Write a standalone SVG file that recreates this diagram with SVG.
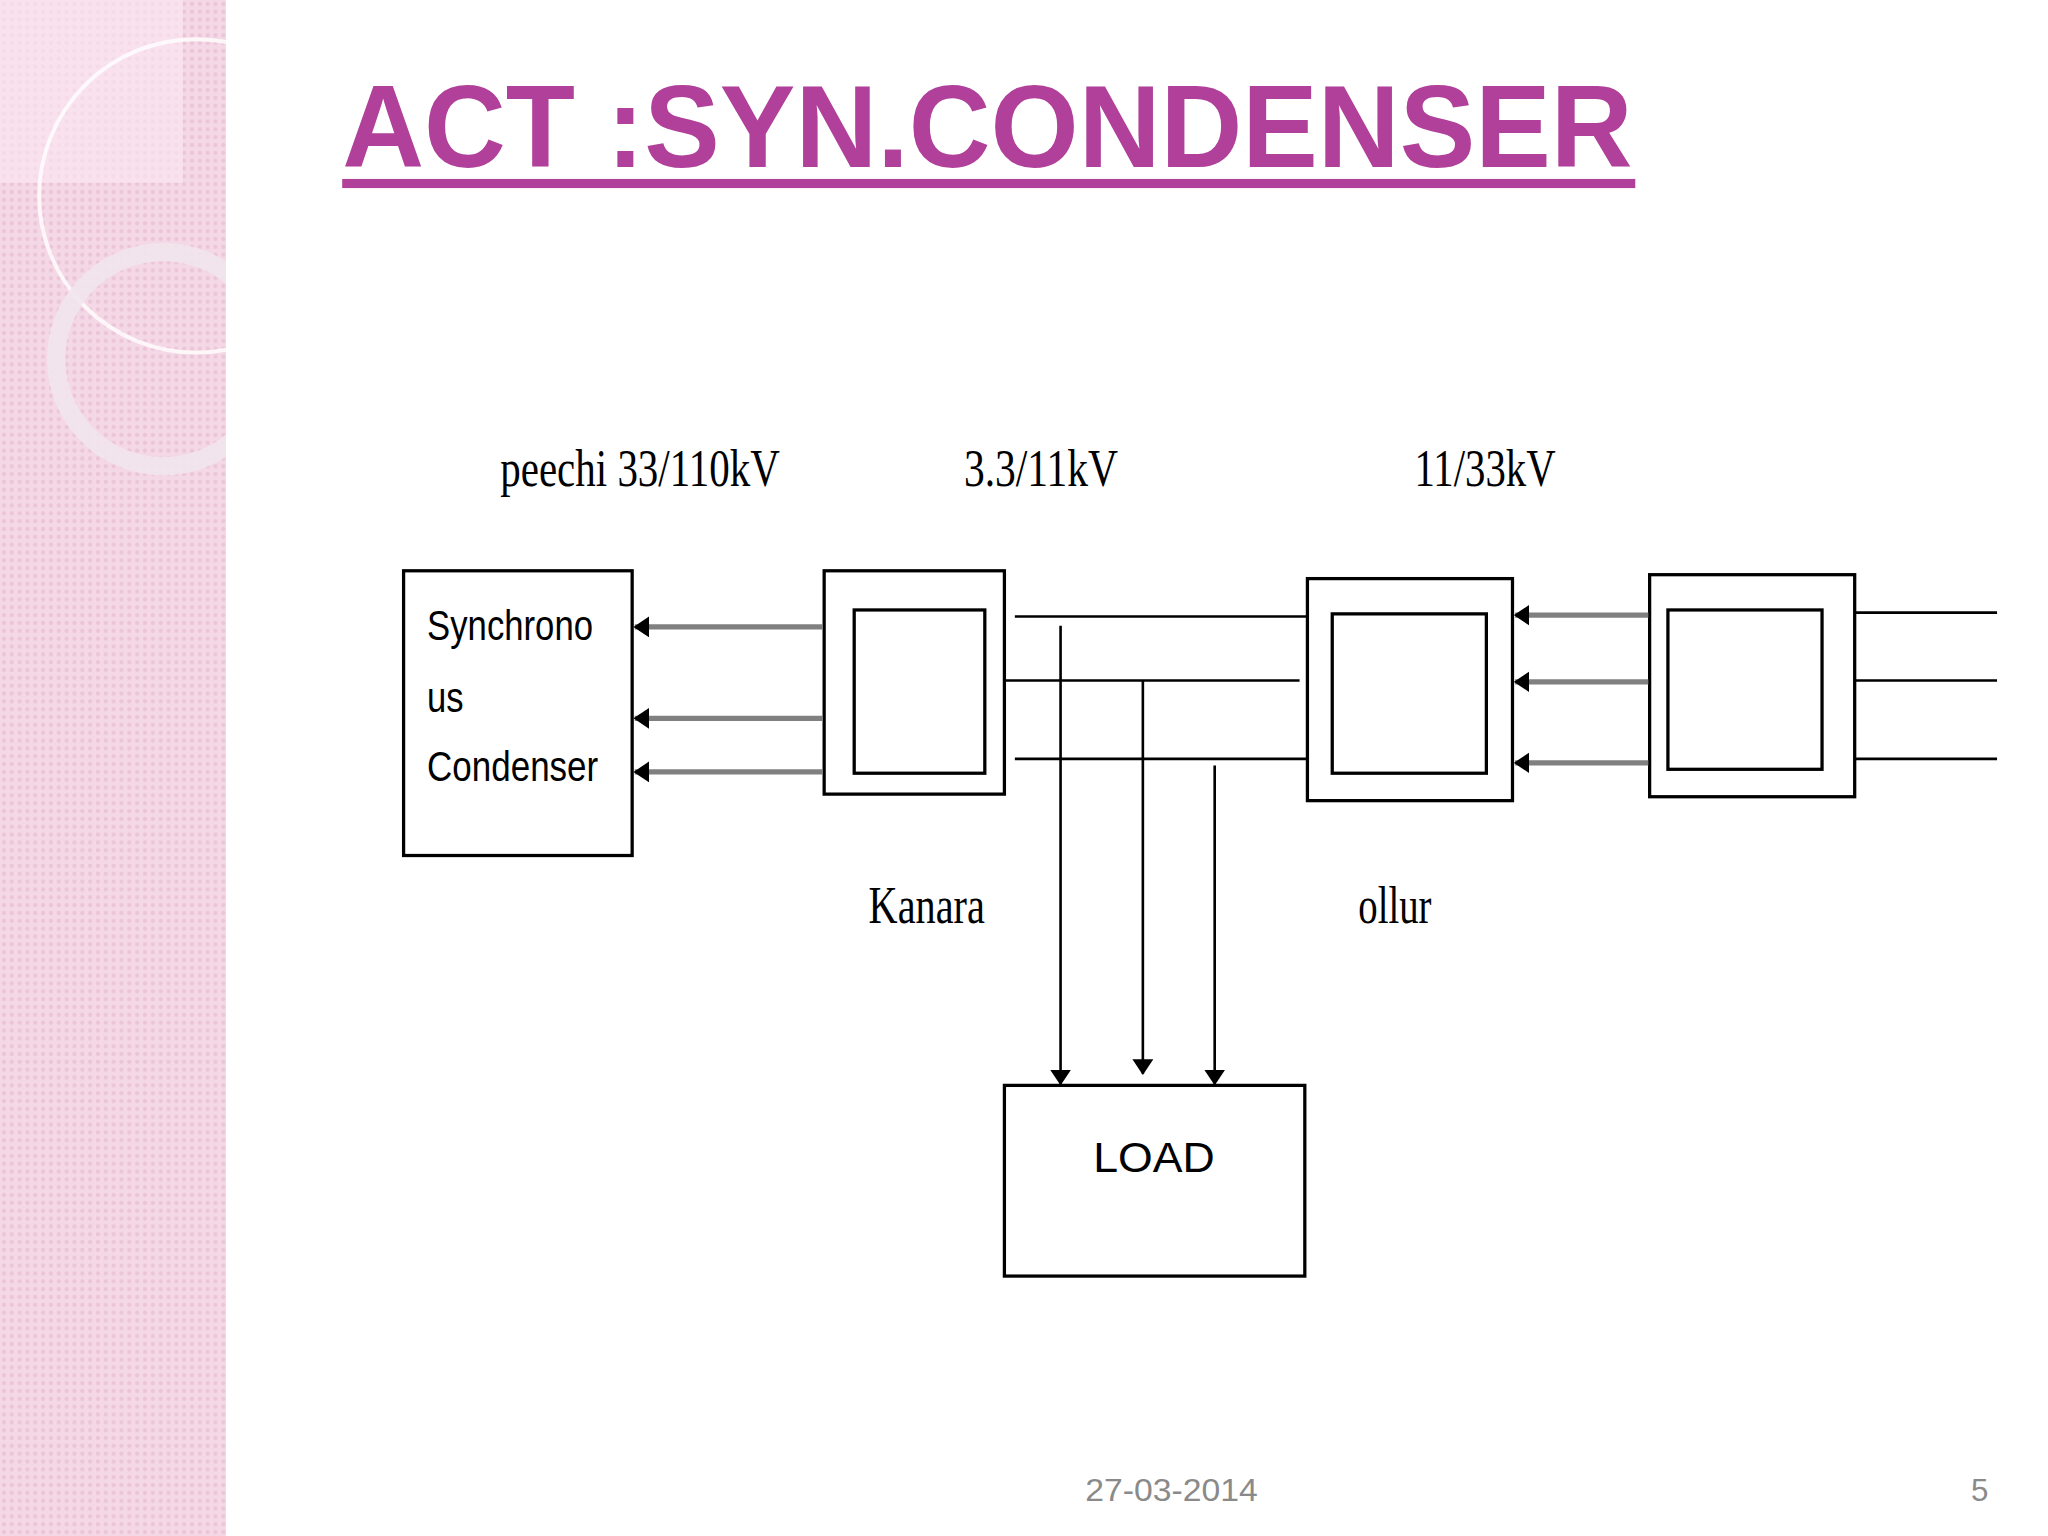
<svg xmlns="http://www.w3.org/2000/svg" width="2048" height="1536" viewBox="0 0 2048 1536">
<defs>
<pattern id="dots" width="6" height="6" patternUnits="userSpaceOnUse"><rect width="6" height="6" fill="#f4d8e6"/><circle cx="3" cy="3" r="1.6" fill="#ecc4d8"/></pattern>
<clipPath id="strip"><rect x="0" y="0" width="173" height="1176"/></clipPath>
<marker id="ah" markerWidth="12" markerHeight="16" refX="11" refY="8" orient="auto" markerUnits="userSpaceOnUse"><path d="M0,0 L12,8 L0,16 Z" fill="#000"/></marker>
<marker id="dh" markerWidth="12" markerHeight="16" refX="11" refY="8" orient="auto" markerUnits="userSpaceOnUse"><path d="M0,0 L12,8 L0,16 Z" fill="#000"/></marker>
</defs>
<style>
.b{fill:#fff;stroke:#000;stroke-width:2.5}
.l{stroke:#000;stroke-width:2;fill:none}
.g{stroke:#808080;stroke-width:4;fill:none}
.s{font-family:"Liberation Serif",serif;font-size:40px;fill:#000}
.c{font-family:"Liberation Sans",sans-serif;font-size:32px;fill:#000}
</style>
<rect width="2048" height="1536" fill="#fff"/>
<g transform="scale(1.30612)">
<g clip-path="url(#strip)">
<rect x="0" y="0" width="173" height="1176" fill="url(#dots)"/>
<rect x="0" y="0" width="140" height="140" fill="#fbe9f1" opacity="0.6"/>
<circle cx="150" cy="150" r="120" fill="none" stroke="#fff" stroke-width="3" opacity="0.8"/>
<circle cx="125" cy="275" r="82" fill="none" stroke="#f2e6ec" stroke-width="14" opacity="0.9"/>
</g>
<text x="262" y="128" font-family="Liberation Sans,sans-serif" font-weight="bold" font-size="90" fill="#b0409a" textLength="988" lengthAdjust="spacingAndGlyphs">ACT :SYN.CONDENSER</text>
<rect x="262" y="137" width="990" height="7" fill="#b0409a"/>
<text class="s" x="383" y="372" textLength="214" lengthAdjust="spacingAndGlyphs">peechi 33/110kV</text>
<text class="s" x="738" y="372" textLength="118" lengthAdjust="spacingAndGlyphs">3.3/11kV</text>
<text class="s" x="1083" y="372" textLength="108" lengthAdjust="spacingAndGlyphs">11/33kV</text>
<text class="s" x="665" y="707" textLength="89" lengthAdjust="spacingAndGlyphs">Kanara</text>
<text class="s" x="1040" y="707" textLength="56" lengthAdjust="spacingAndGlyphs">ollur</text>
<g id="syn"><rect class="b" x="309" y="437" width="175" height="218"/>
<text class="c" x="327" y="490" textLength="127" lengthAdjust="spacingAndGlyphs">Synchrono</text>
<text class="c" x="327" y="545" textLength="28" lengthAdjust="spacingAndGlyphs">us</text>
<text class="c" x="327" y="598" textLength="131" lengthAdjust="spacingAndGlyphs">Condenser</text></g>
<g id="t1"><rect class="b" x="631" y="437" width="138" height="171"/><rect class="b" x="654" y="467" width="100" height="125"/></g>
<g id="t2"><rect class="b" x="1001" y="443" width="157" height="170"/><rect class="b" x="1020" y="470" width="118" height="122"/></g>
<g id="t3"><rect class="b" x="1263" y="440" width="157" height="170"/><rect class="b" x="1277" y="467" width="118" height="122"/></g>
<g id="load"><rect class="b" x="769" y="831" width="230" height="146"/>
<text class="c" x="837" y="897" font-size="50" textLength="93" lengthAdjust="spacingAndGlyphs">LOAD</text></g>
<g id="connectors">
<line class="g" x1="630" y1="480" x2="486" y2="480" marker-end="url(#dh)"/>
<line class="g" x1="630" y1="550" x2="486" y2="550" marker-end="url(#dh)"/>
<line class="g" x1="630" y1="591" x2="486" y2="591" marker-end="url(#dh)"/>
<line class="g" x1="1262" y1="471" x2="1160" y2="471" marker-end="url(#dh)"/>
<line class="g" x1="1262" y1="522" x2="1160" y2="522" marker-end="url(#dh)"/>
<line class="g" x1="1262" y1="584" x2="1160" y2="584" marker-end="url(#dh)"/>
<line class="l" x1="777" y1="472" x2="1001" y2="472"/>
<line class="l" x1="769" y1="521" x2="995" y2="521"/>
<line class="l" x1="777" y1="581" x2="1001" y2="581"/>
<line class="l" x1="1421" y1="469" x2="1529" y2="469"/>
<line class="l" x1="1421" y1="521" x2="1529" y2="521"/>
<line class="l" x1="1421" y1="581" x2="1529" y2="581"/>
<line class="l" x1="812" y1="479" x2="812" y2="830" marker-end="url(#ah)"/>
<line class="l" x1="875" y1="521" x2="875" y2="822" marker-end="url(#ah)"/>
<line class="l" x1="930" y1="586" x2="930" y2="830" marker-end="url(#ah)"/>
</g>
<text x="831" y="1149" font-family="Liberation Sans,sans-serif" font-size="24" fill="#8a8a8a" textLength="132" lengthAdjust="spacingAndGlyphs">27-03-2014</text>
<text x="1509" y="1149" font-family="Liberation Sans,sans-serif" font-size="24" fill="#8a8a8a">5</text>
</g>
</svg>
